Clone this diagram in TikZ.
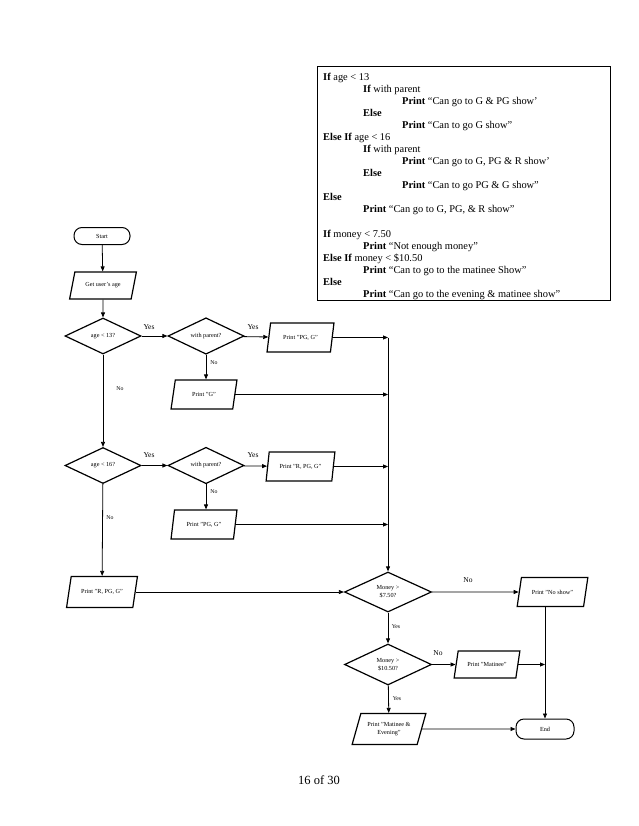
\documentclass[tikz,border=0pt]{standalone}
\usepackage{fontspec}
\setmainfont{Liberation Serif}
\usetikzlibrary{shapes.geometric,arrows.meta}

\begin{document}
\begin{tikzpicture}[x=1pt,y=-1pt,
    term/.style={draw, line width=1pt, rounded corners=8pt, minimum width=56pt, minimum height=17pt, inner sep=1pt, font=\fontsize{6.2}{7}\selectfont},
    io/.style={draw, line width=1.2pt, trapezium, trapezium left angle=65, trapezium right angle=115, trapezium stretches=true, minimum width=67pt, minimum height=29pt, inner sep=1pt, align=center, font=\fontsize{6.2}{7.5}\selectfont},
    iosteep/.style={io, trapezium left angle=73, trapezium right angle=107},
    decision/.style={draw, line width=1.2pt, diamond, minimum width=76pt, minimum height=36pt, inner sep=0pt, align=center, font=\fontsize{6.2}{8}\selectfont},
    arr/.style={-{Triangle[length=5pt,width=4pt]}, line width=0.8pt},
    lbl/.style={font=\fontsize{7.5}{8}\selectfont},
    sml/.style={font=\fontsize{5.8}{7}\selectfont}]
    \useasboundingbox (0,0) rectangle (638,826);

    % Pseudocode box
    \draw[line width=0.8pt] (317,66) rectangle (610,300);
    \node[anchor=north west, inner sep=0pt, align=left, font=\fontsize{10.4}{12}\selectfont] (code) at (323,73) {%
        \textbf{If} age < 13\\
        \hspace*{40pt}\textbf{If} with parent\\
        \hspace*{79pt}\textbf{Print} “Can go to G \& PG show’\\
        \hspace*{40pt}\textbf{Else}\\
        \hspace*{79pt}\textbf{Print} “Can to go G show”\\
        \textbf{Else If} age < 16\\
        \hspace*{40pt}\textbf{If} with parent\\
        \hspace*{79pt}\textbf{Print} “Can go to G, PG \& R show’\\
        \hspace*{40pt}\textbf{Else}\\
        \hspace*{79pt}\textbf{Print} “Can to go PG \& G show”\\
        \textbf{Else}\\
        \hspace*{40pt}\textbf{Print} “Can go to G, PG, \& R show”\\[13pt]
        \textbf{If} money < 7.50\\
        \hspace*{40pt}\textbf{Print} “Not enough money”\\
        \textbf{Else If} money < \$10.50\\
        \hspace*{40pt}\textbf{Print} “Can to go to the matinee Show”\\
        \textbf{Else}\\
        \hspace*{40pt}\textbf{Print} “Can go to the evening \& matinee show”};

    % Flowchart nodes
    \node[term] (start) at (102,236) {Start};
    \node[io, minimum height=27pt] (getage) at (103,285.5) {Get user's age};
    \node[decision] (q13) at (103,336) {age < 13?};
    \node[decision] (p13) at (206,336) {with parent?};
    \node[iosteep] (pg1) at (300.5,337.5) {Print "PG, G"};
    \node[iosteep, minimum width=66pt] (g1) at (204,394.5) {Print "G"};
    \node[decision] (q16) at (103,465.5) {age < 16?};
    \node[decision] (p16) at (206,465.5) {with parent?};
    \node[iosteep, minimum width=69pt] (rpg1) at (300.5,466.5) {Print "R, PG, G"};
    \node[iosteep, minimum width=66pt] (pg2) at (204,524.5) {Print "PG, G"};
    \node[io, minimum width=71pt, minimum height=31pt] (rpg2) at (102,592) {Print "R, PG, G"};
    \node[decision, minimum width=87pt, minimum height=40pt] (m1) at (388,592) {Money >\\ \$7.50?};
    \node[io, minimum width=71pt] (ns) at (552.5,592) {Print "No show"};
    \node[decision, minimum width=87pt, minimum height=41pt] (m2) at (388,664.5) {Money >\\ \$10.50?};
    \node[io, minimum width=66pt, minimum height=27pt] (mat) at (487,664.5) {Print "Matinee"};
    \node[io, minimum width=74pt, minimum height=31pt] (me) at (389,729) {Print "Matinee \&\\ Evening"};
    \node[term, minimum width=58pt, minimum height=20pt] (en) at (545,729) {End};
    \coordinate (bus) at (388,337.5);

    % Connectors
    \draw[arr] (start) -- (getage);
    \draw[arr] (getage) -- (q13);
    \draw[arr] (q13) -- (p13);
    \draw[arr] (p13) -- (pg1);
    \draw[arr] (pg1.east) -- (bus);
    \draw[arr] (p13.south) -- (p13.south |- g1.north);
    \draw[arr] (g1.east) -- (g1.east -| bus);
    \draw[arr] (q13) -- (q16);
    \draw[arr] (q16) -- (p16);
    \draw[arr] (p16) -- (rpg1);
    \draw[arr] (rpg1.east) -- (rpg1.east -| bus);
    \draw[arr] (p16.south) -- (p16.south |- pg2.north);
    \draw[arr] (pg2.east) -- (pg2.east -| bus);
    \draw[arr] (q16) -- (rpg2);
    \draw[arr] (rpg2) -- (m1);
    \draw[arr] (bus) -- (m1.north);
    \draw[arr] (m1) -- (ns);
    \draw[arr] (ns.south -| en.north) -- (en.north);
    \draw[arr] (m1) -- (m2);
    \draw[arr] (m2) -- (mat);
    \draw[arr] (mat.east) -- (mat.east -| en.north);
    \draw[arr] (m2) -- (me);
    \draw[arr] (me) -- (en);

    % Branch labels
    \node[lbl] (y1) at (149,327) {Yes};
    \node[lbl] (y2) at (253,327) {Yes};
    \node[lbl] (y3) at (149,455) {Yes};
    \node[lbl] (y4) at (253,455) {Yes};
    \node[sml] (n1) at (214,363) {No};
    \node[sml] (n2) at (120,389) {No};
    \node[sml] (n3) at (214,492) {No};
    \node[sml] (n4) at (110,518) {No};
    \node[lbl] (n5) at (468,580) {No};
    \node[lbl] (n6) at (438,653) {No};
    \node[sml] (y5) at (396,627) {Yes};
    \node[sml] (y6) at (397,699) {Yes};

    % Page number
    \node[font=\fontsize{12.5}{14}\selectfont] (page) at (319,780) {16 of 30};
\end{tikzpicture}
\end{document}
